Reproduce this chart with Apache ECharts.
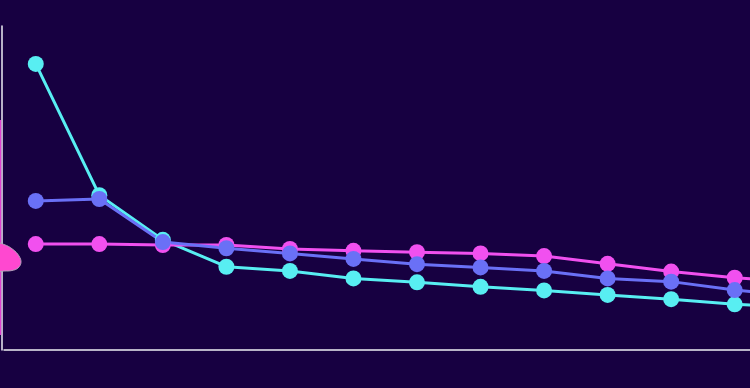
<!DOCTYPE html>
<html><head><meta charset="utf-8">
<style>html,body{margin:0;padding:0;background:#170041;}#c{width:750px;height:388px;}</style>
<script src="https://cdn.jsdelivr.net/npm/echarts@6/dist/echarts.min.js"></script>
</head><body><div id="c"></div>
<script>
const categories = ['1','2','3','4','5','6','7','8','9','10','11','12','13'];
const cyanValues = [88.3, 47.8, 34.0, 25.7, 24.4, 22.1, 20.9, 19.5, 18.4, 17.0, 15.7, 14.1, 13.2];
const blueValues = [46.0, 46.6, 33.3, 31.4, 29.8, 28.1, 26.5, 25.5, 24.4, 22.1, 21.1, 18.5, 16.8];
const magentaValues = [32.7, 32.7, 32.4, 32.4, 31.2, 30.6, 30.2, 29.8, 29.0, 26.6, 24.2, 22.3, 21.0];

const chart = echarts.init(document.getElementById('c'));
function s(name, data, color){
  return {name, type:'line', data, symbol:'circle', symbolSize:16,
    lineStyle:{color, width:3}, itemStyle:{color}, z: 2};
}
chart.setOption({
  backgroundColor:'#170041',
  animation:false,
  grid:{left:4, right:-80, top:26, bottom:38, outerBoundsMode:'none', containLabel:false},
  xAxis:{type:'category', data:categories, boundaryGap:true,
    axisLine:{lineStyle:{color:'#eeeef4', width:1.5}}, axisTick:{show:false}, axisLabel:{show:false}},
  yAxis:{type:'value', min:0, max:100, offset:2, splitLine:{show:false},
    axisLine:{show:true, lineStyle:{color:'#eeeef4', width:1.5}}, axisTick:{show:false}, axisLabel:{show:false}},
  graphic:[
    {type:'rect', shape:{x:-1, y:120, width:2.2, height:215}, style:{fill:'#e040d0'}, z:100},
    {type:'polygon', shape:{smooth:0.4, points:[[-6,243],[4,244.5],[13,249.5],[19,256],[21,262.5],[18,268],[12,270.5],[4,271],[-6,271]]},
      style:{fill:'#ff48d0', stroke:'#b0a0b8', lineWidth:1}, z:101}
  ],
  series:[s('c', cyanValues, '#58eef2'), s('a', magentaValues, '#f150ef'), s('b', blueValues, '#6a70f6')]
});
</script></body></html>
